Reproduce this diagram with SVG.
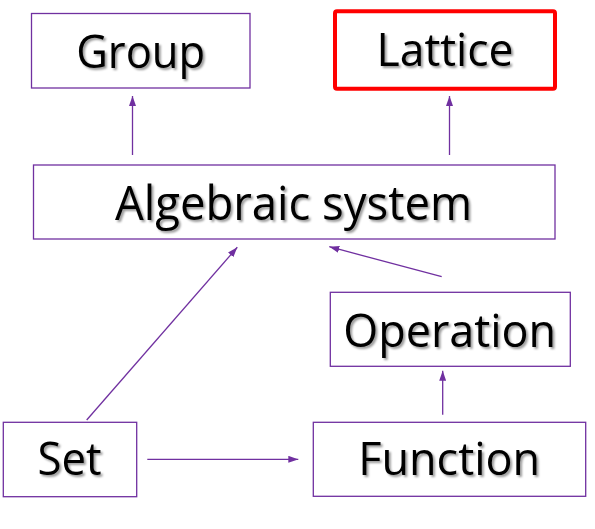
<svg xmlns="http://www.w3.org/2000/svg" width="595" height="529" viewBox="0 0 595 529">
<style>
.box{fill:#fff;stroke:#7030A0;stroke-width:1.3}
.hl{fill:#fff;stroke:#FF0000;stroke-width:4}
.lbl{font-family:"Open Sans","Liberation Sans",sans-serif;font-size:46px;fill:#000;text-anchor:middle;filter:url(#sh)}
.conn{stroke:#7030A0;stroke-width:1.3;fill:none;marker-end:url(#ah)}
</style>
<defs>
<filter id="sh" x="-10%" y="-20%" width="120%" height="150%">
<feDropShadow dx="2" dy="2" stdDeviation="1.2" flood-color="#000" flood-opacity="0.4"/>
</filter>
<marker id="ah" markerUnits="userSpaceOnUse" markerWidth="10" markerHeight="7" refX="10" refY="3.5" orient="auto">
<path d="M0,0 L10,3.5 L0,7 z" fill="#7030A0"/>
</marker>
</defs>
<rect width="595" height="529" fill="#fff"/>
<g id="connectors">
<line class="conn" x1="132.5" y1="155" x2="132.5" y2="96"/>
<line class="conn" x1="449.5" y1="155" x2="449.5" y2="96"/>
<line class="conn" x1="86.7" y1="420" x2="237.3" y2="247.3"/>
<line class="conn" x1="441.7" y1="276.7" x2="329.3" y2="246.7"/>
<line class="conn" x1="442.7" y1="414.7" x2="442.7" y2="370.7"/>
<line class="conn" x1="147.3" y1="459.3" x2="298.3" y2="459.3"/>
</g>
<g id="group">
<rect class="box" x="31.5" y="13.5" width="218.5" height="74.5"/>
<text class="lbl" x="140.7" y="68" textLength="129" lengthAdjust="spacingAndGlyphs">Group</text>
</g>
<g id="lattice">
<rect class="hl" x="335" y="11.2" width="220" height="77.5" rx="2"/>
<text class="lbl" x="445" y="66" textLength="137" lengthAdjust="spacingAndGlyphs">Lattice</text>
</g>
<g id="algebraic-system">
<rect class="box" x="33.5" y="165" width="521.5" height="74"/>
<text class="lbl" x="293.5" y="220" style="font-size:48px" textLength="357" lengthAdjust="spacingAndGlyphs">Algebraic system</text>
</g>
<g id="operation">
<rect class="box" x="330.3" y="292.3" width="240" height="74"/>
<text class="lbl" x="449.7" y="346.7" textLength="213" lengthAdjust="spacingAndGlyphs">Operation</text>
</g>
<g id="set">
<rect class="box" x="3.3" y="422.3" width="133.4" height="74.4"/>
<text class="lbl" x="69.5" y="475" textLength="64" lengthAdjust="spacingAndGlyphs">Set</text>
</g>
<g id="function">
<rect class="box" x="313.3" y="422.3" width="272.4" height="74"/>
<text class="lbl" x="449.2" y="475" textLength="182" lengthAdjust="spacingAndGlyphs">Function</text>
</g>
</svg>
